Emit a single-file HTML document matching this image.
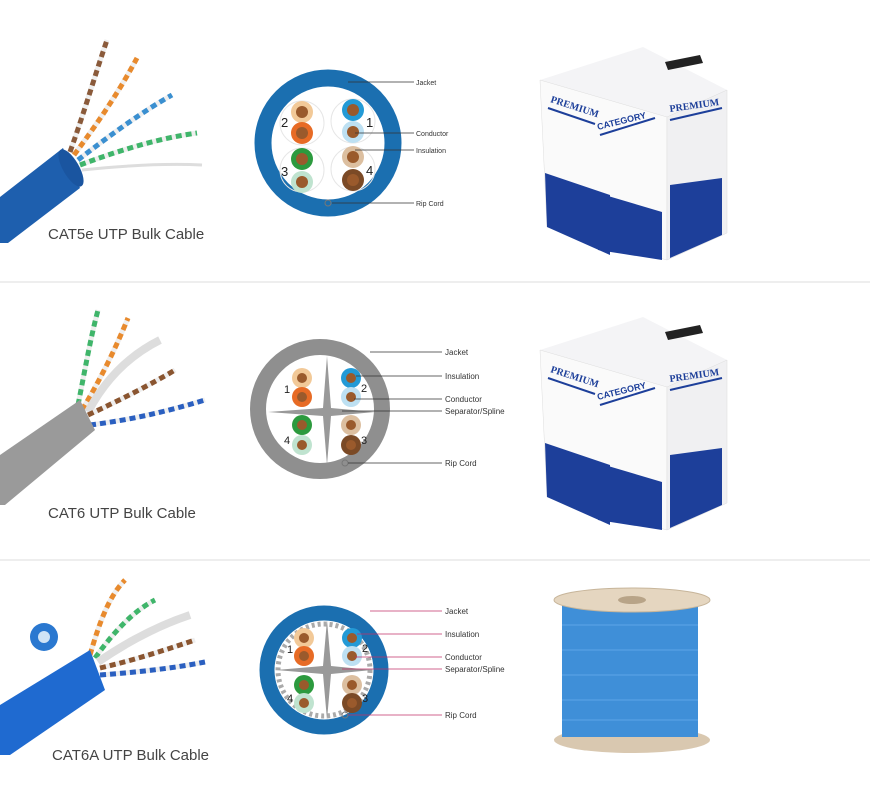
<!DOCTYPE html>
<html><head><meta charset="utf-8"><style>
html,body{margin:0;padding:0;background:#fff;}
svg{display:block;font-family:"Liberation Sans",sans-serif;}
</style></head><body>
<svg width="870" height="797" viewBox="0 0 870 797" xmlns="http://www.w3.org/2000/svg">
<defs>
<g id="box">
  <polygon points="540,80 643,47 727,90 667,117" fill="#f4f4f6"/>
  <polygon points="540,80 667,117 667,260 547,227" fill="#fafafa" stroke="#ddd" stroke-width="0.5"/>
  <polygon points="667,117 727,90 727,233 667,260" fill="#f0f0f2" stroke="#ddd" stroke-width="0.5"/>
  <polygon points="545,173 610,195 610,255 547,227" fill="#1d3f9a"/>
  <polygon points="598,193 662,212 662,260 598,250" fill="#1d3f9a"/>
  <polygon points="670,185 722,178 722,235 670,258" fill="#1d3f9a"/>
  <polygon points="665,62 700,55 703,63 668,70" fill="#222"/>
  <line x1="548" y1="108" x2="595" y2="124" stroke="#1d3f9a" stroke-width="2"/>
  <line x1="600" y1="135" x2="655" y2="118" stroke="#1d3f9a" stroke-width="2"/>
  <line x1="670" y1="120" x2="722" y2="108" stroke="#1d3f9a" stroke-width="2"/>
  <text x="550" y="102" font-size="10" font-weight="bold" fill="#1d3f9a" font-family="Liberation Serif" transform="rotate(18 550 102)">PREMIUM</text>
  <text x="598" y="130" font-size="9" font-weight="bold" fill="#1d3f9a" transform="rotate(-14 598 130)">CATEGORY</text>
  <text x="670" y="112" font-size="10" font-weight="bold" fill="#1d3f9a" font-family="Liberation Serif" transform="rotate(-8 670 112)">PREMIUM</text>
</g>
</defs>

<line x1="0" y1="282" x2="870" y2="282" stroke="#ddd"/>
<line x1="0" y1="560" x2="870" y2="560" stroke="#ddd"/>

<!-- Row1 cable -->
<g fill="none" stroke-width="5">
<path d="M70,152 C85,110 95,75 107,40" stroke="#eee"/><path d="M70,152 C85,110 95,75 107,40" stroke="#8a5a3a" stroke-dasharray="6 4"/>
<path d="M74,155 C100,120 120,90 137,58" stroke="#eee"/><path d="M74,155 C100,120 120,90 137,58" stroke="#e88a2d" stroke-dasharray="6 4"/>
<path d="M78,160 C110,135 145,110 172,95" stroke="#eee"/><path d="M78,160 C110,135 145,110 172,95" stroke="#3a8fd0" stroke-dasharray="6 4"/>
<path d="M80,165 C120,150 160,138 197,133" stroke="#eee"/><path d="M80,165 C120,150 160,138 197,133" stroke="#3fb56a" stroke-dasharray="6 4"/>
<path d="M82,170 C120,166 160,163 202,165" stroke="#ddd" stroke-width="3"/>
</g>
<polygon points="0,197 63,148 80,188 8,243 0,243" fill="#1e5fae"/>
<ellipse cx="71" cy="168" rx="8" ry="21" fill="#1a55a0" transform="rotate(-30 71 168)"/>
<text x="48" y="239" font-size="15" fill="#444">CAT5e UTP Bulk Cable</text>

<!-- Row1 cross-section -->
<circle cx="328" cy="143" r="65" fill="#fff" stroke="#1b6fb0" stroke-width="17"/>
<g stroke="#e6e6e6" fill="none"><circle cx="302" cy="123" r="22"/><circle cx="353" cy="121" r="22"/><circle cx="302" cy="170" r="22"/><circle cx="353" cy="169" r="22"/></g>
<circle cx="302" cy="112" r="11" fill="#f2c998"/><circle cx="302" cy="133" r="11" fill="#e76b25"/>
<circle cx="302" cy="159" r="11" fill="#2c9a3e"/><circle cx="302" cy="182" r="11" fill="#bfe3cf"/>
<circle cx="353" cy="110" r="11" fill="#239ad6"/><circle cx="353" cy="132" r="11" fill="#bde0f2"/>
<circle cx="353" cy="157" r="11" fill="#dcbfa0"/><circle cx="353" cy="180" r="11" fill="#7b4a26"/>
<g fill="#9a5a2c"><circle cx="302" cy="112" r="6"/><circle cx="302" cy="133" r="6"/><circle cx="302" cy="159" r="6"/><circle cx="302" cy="182" r="6"/><circle cx="353" cy="110" r="6"/><circle cx="353" cy="132" r="6"/><circle cx="353" cy="157" r="6"/><circle cx="353" cy="180" r="6"/></g>
<circle cx="328" cy="203" r="3" fill="none" stroke="#777"/>
<g font-size="13" fill="#222"><text x="281" y="127">2</text><text x="366" y="127">1</text><text x="281" y="176">3</text><text x="366" y="175">4</text></g>
<g stroke="#333" stroke-width="0.8"><line x1="348" y1="82" x2="414" y2="82"/><line x1="355" y1="133" x2="414" y2="133"/><line x1="355" y1="150" x2="414" y2="150"/><line x1="332" y1="203" x2="414" y2="203"/></g>
<g font-size="7" fill="#333"><text x="416" y="85">Jacket</text><text x="416" y="136">Conductor</text><text x="416" y="153">Insulation</text><text x="416" y="206">Rip Cord</text></g>

<use href="#box"/>

<!-- Row2 cable -->
<g fill="none" stroke-width="5">
<path d="M78,405 C85,370 90,340 98,310" stroke="#eee"/><path d="M78,405 C85,370 90,340 98,310" stroke="#3fb56a" stroke-dasharray="6 4"/>
<path d="M82,410 C100,380 115,350 128,318" stroke="#eee"/><path d="M82,410 C100,380 115,350 128,318" stroke="#e88a2d" stroke-dasharray="6 4"/>
<path d="M88,412 C110,370 140,350 160,340" stroke="#ddd" stroke-width="8"/>
<path d="M88,415 C120,400 150,385 175,370" stroke="#eee"/><path d="M88,415 C120,400 150,385 175,370" stroke="#8a5530" stroke-dasharray="6 4"/>
<path d="M90,425 C130,420 165,412 205,400" stroke="#eee"/><path d="M90,425 C130,420 165,412 205,400" stroke="#2a5fc0" stroke-dasharray="6 4"/>
</g>
<polygon points="0,455 80,400 95,430 5,505 0,505" fill="#9a9a9a"/>
<text x="48" y="518" font-size="15" fill="#444">CAT6 UTP Bulk Cable</text>

<circle cx="320" cy="409" r="62" fill="#fff" stroke="#8f8f8f" stroke-width="16"/>
<polygon points="327,356 331,408 375,412 331,416 327,465 323,416 268,412 323,408" fill="#999"/>
<circle cx="302" cy="378" r="10" fill="#f2c998"/><circle cx="302" cy="397" r="10" fill="#e76b25"/>
<circle cx="302" cy="425" r="10" fill="#2c9a3e"/><circle cx="302" cy="445" r="10" fill="#bfe3cf"/>
<circle cx="351" cy="378" r="10" fill="#239ad6"/><circle cx="351" cy="397" r="10" fill="#bde0f2"/>
<circle cx="351" cy="425" r="10" fill="#dcbfa0"/><circle cx="351" cy="445" r="10" fill="#7b4a26"/>
<g fill="#9a5a2c"><circle cx="302" cy="378" r="5"/><circle cx="302" cy="397" r="5"/><circle cx="302" cy="425" r="5"/><circle cx="302" cy="445" r="5"/><circle cx="351" cy="378" r="5"/><circle cx="351" cy="397" r="5"/><circle cx="351" cy="425" r="5"/><circle cx="351" cy="445" r="5"/></g>
<circle cx="345" cy="463" r="3" fill="none" stroke="#777"/>
<g font-size="11" fill="#222"><text x="284" y="393">1</text><text x="361" y="392">2</text><text x="284" y="444">4</text><text x="361" y="444">3</text></g>
<g stroke="#333" stroke-width="0.8"><line x1="370" y1="352" x2="442" y2="352"/><line x1="356" y1="376" x2="442" y2="376"/><line x1="354" y1="399" x2="442" y2="399"/><line x1="342" y1="411" x2="442" y2="411"/><line x1="348" y1="463" x2="442" y2="463"/></g>
<g font-size="8" fill="#333"><text x="445" y="355">Jacket</text><text x="445" y="379">Insulation</text><text x="445" y="402">Conductor</text><text x="445" y="414">Separator/Spline</text><text x="445" y="466">Rip Cord</text></g>

<use href="#box" transform="translate(0,270)"/>

<!-- Row3 cable -->
<circle cx="44" cy="637" r="14" fill="#2a78d0"/><circle cx="44" cy="637" r="6" fill="#cfe3f6"/>
<g fill="none" stroke-width="5">
<path d="M90,655 C100,620 110,595 125,580" stroke="#eee"/><path d="M90,655 C100,620 110,595 125,580" stroke="#e88a2d" stroke-dasharray="6 4"/>
<path d="M95,658 C115,630 135,610 155,600" stroke="#eee"/><path d="M95,658 C115,630 135,610 155,600" stroke="#3fb56a" stroke-dasharray="6 4"/>
<path d="M98,662 C130,640 160,625 190,615" stroke="#ddd" stroke-width="8"/>
<path d="M100,668 C135,660 165,650 195,640" stroke="#eee"/><path d="M100,668 C135,660 165,650 195,640" stroke="#8a5530" stroke-dasharray="6 4"/>
<path d="M100,675 C140,672 175,668 205,662" stroke="#eee"/><path d="M100,675 C140,672 175,668 205,662" stroke="#2a5fc0" stroke-dasharray="6 4"/>
</g>
<polygon points="0,705 90,650 105,690 10,755 0,755" fill="#1f6ad0"/>
<text x="52" y="760" font-size="15" fill="#444">CAT6A UTP Bulk Cable</text>

<circle cx="324" cy="670" r="57" fill="#fff" stroke="#1b6fb0" stroke-width="15"/>
<circle cx="324" cy="670" r="46" fill="none" stroke="#aaa" stroke-width="5" stroke-dasharray="3 3"/>
<polygon points="327,620 331,666 372,670 331,674 327,720 323,674 276,670 323,666" fill="#999"/>
<circle cx="304" cy="638" r="10" fill="#f2c998"/><circle cx="304" cy="656" r="10" fill="#e76b25"/>
<circle cx="304" cy="685" r="10" fill="#2c9a3e"/><circle cx="304" cy="703" r="10" fill="#bfe3cf"/>
<circle cx="352" cy="638" r="10" fill="#239ad6"/><circle cx="352" cy="656" r="10" fill="#bde0f2"/>
<circle cx="352" cy="685" r="10" fill="#dcbfa0"/><circle cx="352" cy="703" r="10" fill="#7b4a26"/>
<g fill="#9a5a2c"><circle cx="304" cy="638" r="5"/><circle cx="304" cy="656" r="5"/><circle cx="304" cy="685" r="5"/><circle cx="304" cy="703" r="5"/><circle cx="352" cy="638" r="5"/><circle cx="352" cy="656" r="5"/><circle cx="352" cy="685" r="5"/><circle cx="352" cy="703" r="5"/></g>
<circle cx="345" cy="715" r="3" fill="none" stroke="#777"/>
<g font-size="11" fill="#222"><text x="287" y="653">1</text><text x="362" y="652">2</text><text x="287" y="702">4</text><text x="362" y="702">3</text></g>
<g stroke="#c0306a" stroke-width="0.8"><line x1="370" y1="611" x2="442" y2="611"/><line x1="357" y1="634" x2="442" y2="634"/><line x1="355" y1="657" x2="442" y2="657"/><line x1="342" y1="669" x2="442" y2="669"/><line x1="348" y1="715" x2="442" y2="715"/></g>
<g font-size="8" fill="#333"><text x="445" y="614">Jacket</text><text x="445" y="637">Insulation</text><text x="445" y="660">Conductor</text><text x="445" y="672">Separator/Spline</text><text x="445" y="718">Rip Cord</text></g>

<!-- Spool -->
<ellipse cx="632" cy="740" rx="78" ry="13" fill="#d9c8b0"/>
<rect x="562" y="605" width="136" height="132" fill="#3f8fd8"/>
<g stroke="#6aaef0" stroke-width="1" opacity="0.7"><line x1="562" y1="625" x2="698" y2="625"/><line x1="562" y1="650" x2="698" y2="650"/><line x1="562" y1="675" x2="698" y2="675"/><line x1="562" y1="700" x2="698" y2="700"/><line x1="562" y1="720" x2="698" y2="720"/></g>
<ellipse cx="632" cy="600" rx="78" ry="12" fill="#e5d6c0" stroke="#c7b59a"/>
<ellipse cx="632" cy="600" rx="14" ry="4" fill="#b8a488"/>
</svg>
</body></html>
